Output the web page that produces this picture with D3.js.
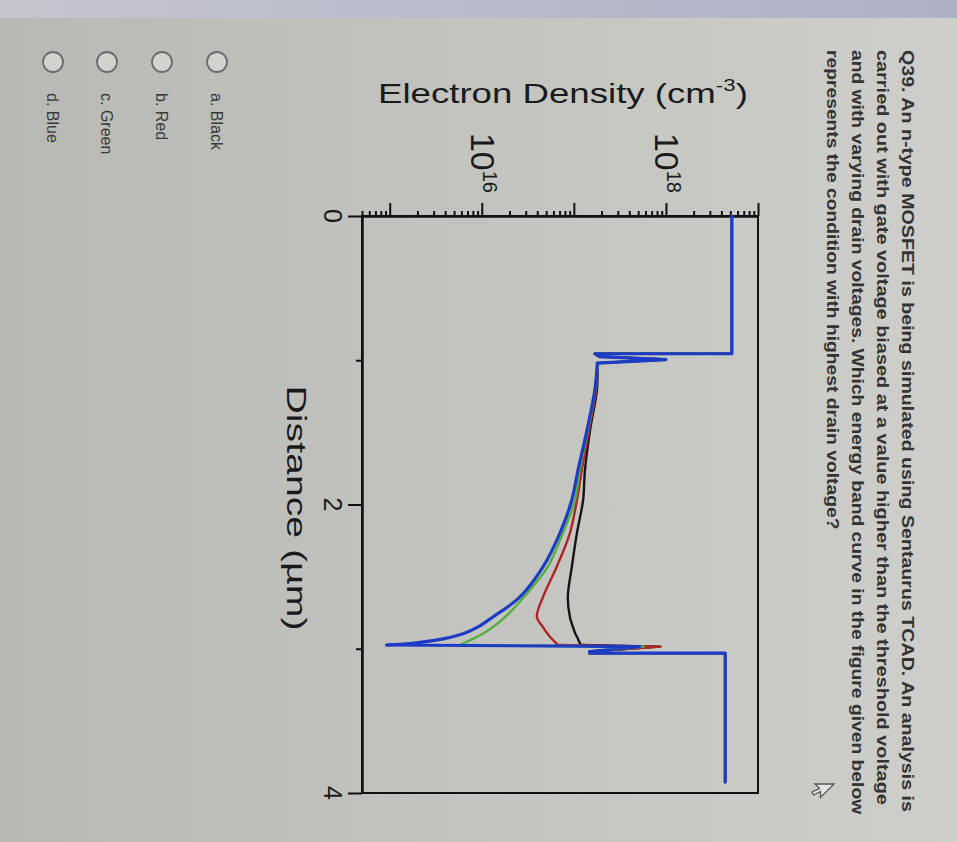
<!DOCTYPE html>
<html lang="en">
<head>
<meta charset="UTF-8">
<title>Electron Density</title>
<script src="https://cdn.jsdelivr.net/npm/d3@7"></script>
<style>
  body { margin: 0; background: #c3c4bf; }
  svg { display: block; }
  text { font-family: "Liberation Sans", Arial, sans-serif; }
</style>
</head>
<body>
<svg id="chart" width="957" height="842"></svg>
<script>
// ---- data ----
// distance in um, electron density in cm^-3
var sourceSide = [[0, 5.2e18], [0.955, 5.2e18], [0.955, 1.69e17], [0.975, 1.9e17], [0.995, 1.0e18], [1.02, 1.8e17]]
var channelDistance = [1.02, 1.206, 1.484, 1.761, 1.969, 2.198, 2.433, 2.641, 2.78, 2.849, 2.891, 2.932, 2.96, 2.974]
var blackDensity = [1.8e17, 1.78e17, 1.50e17, 1.32e17, 1.26e17, 1.08e17, 9.5e16, 8.6e16, 9.06e16, 9.77e16, 1.03e17, 1.11e17, 1.16e17, 1.19e17]
var redDensity   = [1.8e17, 1.74e17, 1.46e17, 1.22e17, 1.08e17, 9.06e16, 6.5e16, 4.62e16, 3.97e16, 4.6e16, 5.1e16, 5.78e16, 6.4e16, 6.7e16]
var greenDensity = [1.8e17, 1.71e17, 1.42e17, 1.16e17, 1.03e17, 7.6e16, 5.2e16, 2.87e16, 1.79e16, 1.32e16, 1.06e16, 8.0e15, 6.4e15, 5.9e15]
var blueDensity  = [1.8e17, 1.69e17, 1.39e17, 1.11e17, 9.5e16, 7.06e16, 4.62e16, 2.6e16, 1.32e16, 9.1e15, 6.6e15, 3.8e15, 1.88e15, 9.3e14]
var drainSpike = [8.5e17, 8.8e17, 5.8e17, 5.2e17]   // black, red, green, blue
var drainSide = [[3.02, 1.48e17], [3.03, 1.48e17], [3.03, 4.4e18], [3.924, 4.4e18]]

var seriesNames = ["Black", "Red", "Green", "Blue"]
var seriesColors = ["#151515", "#ad2525", "#55ae40", "#1d3cc6"]
var seriesDensity = [blackDensity, redDensity, greenDensity, blueDensity]

var majorDensityTicks = [1e15, 1e16, 1e17, 1e18, 1e19]
var labelledDensityTicks = [1e16, 1e18]
var distanceMajorTicks = [0, 2, 4]
var distanceMinorTicks = [1, 3]

var questionLines = [
  "Q39.  An n-type MOSFET is being simulated using Sentaurus TCAD. An analysis is",
  "carried out with gate voltage biased at a value higher than the threshold voltage",
  "and with varying drain voltages. Which energy band curve in the figure given below",
  "represents the condition with highest drain voltage?"
]
var options = ["a. Black", "b. Red", "c. Green", "d. Blue"]

// ---- layout (the page is photographed rotated by 90 degrees) ----
var svg = d3.select("#chart")

var defs = svg.append("defs")
var bg = defs.append("linearGradient").attr("id", "bg")
bg.append("stop").attr("offset", "0%").attr("stop-color", "#b8b9b4")
bg.append("stop").attr("offset", "100%").attr("stop-color", "#cecfca")
var band = defs.append("linearGradient").attr("id", "band")
band.append("stop").attr("offset", "0%").attr("stop-color", "#c4c5cf")
band.append("stop").attr("offset", "100%").attr("stop-color", "#aeb0c6")
svg.append("rect").attr("width", 957).attr("height", 842).attr("fill", "url(#bg)")
svg.append("rect").attr("width", 957).attr("height", 18).attr("fill", "url(#band)")

// density runs left -> right, distance runs top -> bottom
var x = d3.scaleLog().domain([5e14, 1e19]).range([362, 758])
var y = d3.scaleLinear().domain([0, 4]).range([216, 793])

// stretch a text along its reading direction to a target length
function fit(sel, target, base) {
  var w = sel.node().getComputedTextLength()
  sel.attr("transform", base + " scale(" + (target / w) + ",1)")
}

// minor ticks 2..9 of each decade
var minorDensityTicks = []
for (var e = 14; e < 19; e++) {
  for (var m = 2; m < 10; m++) {
    var v = m * Math.pow(10, e)
    if (v >= 5e14) minorDensityTicks.push(v)
  }
}

svg.append("g").attr("transform", "translate(0," + y(0) + ")")
  .call(d3.axisTop(x).tickValues(minorDensityTicks).tickSize(5).tickSizeOuter(0).tickFormat(""))
svg.append("g").attr("transform", "translate(0," + y(0) + ")")
  .call(d3.axisTop(x).tickValues(majorDensityTicks).tickSize(13).tickSizeOuter(0).tickFormat(""))

svg.append("g").attr("transform", "translate(" + x(5e14) + ",0)")
  .call(d3.axisLeft(y).tickValues(distanceMajorTicks).tickSize(14).tickSizeOuter(0).tickFormat(""))
svg.append("g").attr("transform", "translate(" + x(5e14) + ",0)")
  .call(d3.axisLeft(y).tickValues(distanceMinorTicks).tickSize(6).tickSizeOuter(0).tickFormat(""))

svg.selectAll(".domain, .tick line").attr("stroke", "#111").attr("stroke-width", 2)

// frame
svg.append("rect")
  .attr("x", x(5e14)).attr("y", y(0))
  .attr("width", x(1e19) - x(5e14)).attr("height", y(4) - y(0))
  .attr("fill", "none").attr("stroke", "#111").attr("stroke-width", 2)

// density tick labels, rotated
labelledDensityTicks.forEach(function(t) {
  var lab = svg.append("text")
    .attr("transform", "translate(" + (x(t) - 11) + ",193) rotate(90)")
    .attr("text-anchor", "end").attr("font-size", 34).attr("fill", "#1a1a1a")
  lab.append("tspan").text("10")
  lab.append("tspan").attr("font-size", 20).attr("dy", -12).text(Math.round(Math.log10(t)))
})

// distance tick labels, rotated
distanceMajorTicks.forEach(function(t) {
  svg.append("text")
    .attr("transform", "translate(324," + y(t) + ") rotate(90)")
    .attr("text-anchor", "middle").attr("font-size", 25).attr("fill", "#1a1a1a")
    .text(t)
})

// axis titles
var title = svg.append("text").attr("font-size", 28).attr("fill", "#1a1a1a")
title.append("tspan").text("Electron Density (cm")
title.append("tspan").attr("font-size", 17).attr("dy", -12).text("-3")
title.append("tspan").attr("dy", 12).text(")")
fit(title, 370, "translate(378,103)")

var xTitle = svg.append("text").attr("font-size", 28).attr("fill", "#1a1a1a")
  .attr("text-anchor", "middle").text("Distance (\u00b5m)")
fit(xTitle, 245, "translate(287,508) rotate(90)")

// curves: straight source/drain steps, smooth channel
var straight = d3.line()
  .x(function(d) { return x(d[1]) })
  .y(function(d) { return y(d[0]) })
var smooth = d3.line()
  .x(function(d) { return x(d[1]) })
  .y(function(d) { return y(d[0]) })
  .curve(d3.curveCatmullRom.alpha(0.5))

seriesNames.forEach(function(name, i) {
  var chan = channelDistance.map(function(d, j) { return [d, seriesDensity[i][j]] })
  var tail = [chan[chan.length - 1], [2.985, drainSpike[i]]].concat(drainSide)
  var g = svg.append("g")
    .attr("fill", "none")
    .attr("stroke", seriesColors[i])
    .attr("stroke-width", name == "Blue" ? 3.2 : 2.4)
    .attr("stroke-linejoin", "round")
    .attr("stroke-linecap", "round")
  g.append("path").datum(sourceSide).attr("d", straight)
  g.append("path").datum(chan).attr("d", smooth)
  g.append("path").datum(tail).attr("d", straight)
})

// question text, rotated
var qx = [902, 877, 852, 827]
var qLen = [762, 755, 765, 480]
questionLines.forEach(function(s, i) {
  var t = svg.append("text").attr("font-size", 17).attr("font-weight", "bold")
    .attr("fill", "#333").text(s)
  fit(t, qLen[i], "translate(" + qx[i] + ",50) rotate(90)")
})

// answer options
var ox = [217, 162, 107, 53]
options.forEach(function(s, i) {
  svg.append("circle").attr("cx", ox[i]).attr("cy", 62).attr("r", 10)
    .attr("fill", "#d2d3cf").attr("stroke", "#6b6b6b").attr("stroke-width", 1.8)
  svg.append("text").attr("font-size", 16).attr("fill", "#3a3a3a")
    .attr("transform", "translate(" + (ox[i] - 6) + ",93) rotate(90)")
    .text(s)
})

// mouse pointer seen on the screen
svg.append("path")
  .attr("transform", "translate(834,784) rotate(90)")
  .attr("d", "M0,0 L0,19 L4.5,14.5 L8,22 L11,20.5 L7.5,13.5 L13.5,13.5 Z")
  .attr("fill", "#e4e4e0").attr("stroke", "#555").attr("stroke-width", 1.3)
</script>
</body>
</html>
